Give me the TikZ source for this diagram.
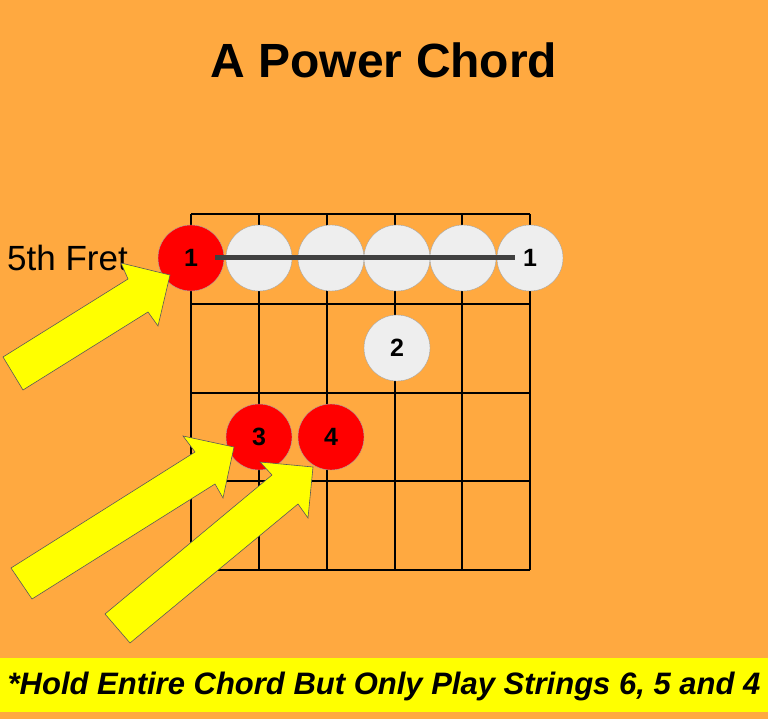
\documentclass[tikz,border=0pt]{standalone}
\usepackage{fontspec}
\setmainfont{Liberation Sans}
\definecolor{bg}{HTML}{FFA940}
\definecolor{dotgray}{HTML}{EEEEEE}
\definecolor{arrowy}{HTML}{FFFF00}
\begin{document}
\begin{tikzpicture}[x=1pt,y=-1pt,
  grid/.style={line width=2pt,black},
  fing/.style={circle,draw=gray!70,minimum size=66pt,inner sep=0pt,font=\bfseries\fontsize{25}{30}\selectfont},
  redf/.style={fing,fill=red},
  grayf/.style={fing,fill=dotgray},
  yarrow/.style={fill=arrowy,draw=gray!70!black,line width=0.6pt}]
\fill[bg] (0,0) rectangle (768,719);
\useasboundingbox (0,0) rectangle (768,719);
\node (title) at (384,60) {\bfseries\fontsize{48}{56}\selectfont A Power Chord};
% grid
\foreach \x in {191,259,327,395,462,530} \draw[grid] (\x,214) -- (\x,570);
\foreach \y in {214,304,393,481,570} \draw[grid] (191,\y) -- (530,\y);
% barre
\node[redf] (f1) at (191,258) {1};
\node[grayf] (g2) at (259,258) {};
\node[grayf] (g3) at (331,258) {};
\node[grayf] (g4) at (397,258) {};
\node[grayf] (g5) at (463,258) {};
\node[grayf] (g6) at (530,258) {1};
\coordinate (bs) at (215,258);
\coordinate (be) at (515,258);
\draw[line width=5pt,gray!50!black] (bs) -- (be);
\node[grayf] (f2) at (397,348) {2};
\node[redf] (f3) at (259,437) {3};
\node[redf] (f4) at (331,437) {4};
\node[anchor=west,inner sep=0pt] (fret) at (7,258) {\fontsize{35}{40}\selectfont 5th Fret};
% arrows
\draw[yarrow] (3,357) -- (128,279) -- (121,263) -- (170,275) -- (158,326) -- (148,312) -- (23,390) -- cycle;
\draw[yarrow] (11,568) -- (195,452) -- (183,436) -- (234,447) -- (223,498) -- (215,484) -- (32,599) -- cycle;
\draw[yarrow] (105,614) -- (272,475) -- (260,462) -- (313,467) -- (308,518) -- (298,504) -- (130,643) -- cycle;
% banner
\fill[arrowy] (0,658) rectangle (768,712);
\node (note) at (384,686) {\bfseries\itshape\fontsize{31}{36}\selectfont *Hold Entire Chord But Only Play Strings 6, 5 and 4};
\end{tikzpicture}
\end{document}
